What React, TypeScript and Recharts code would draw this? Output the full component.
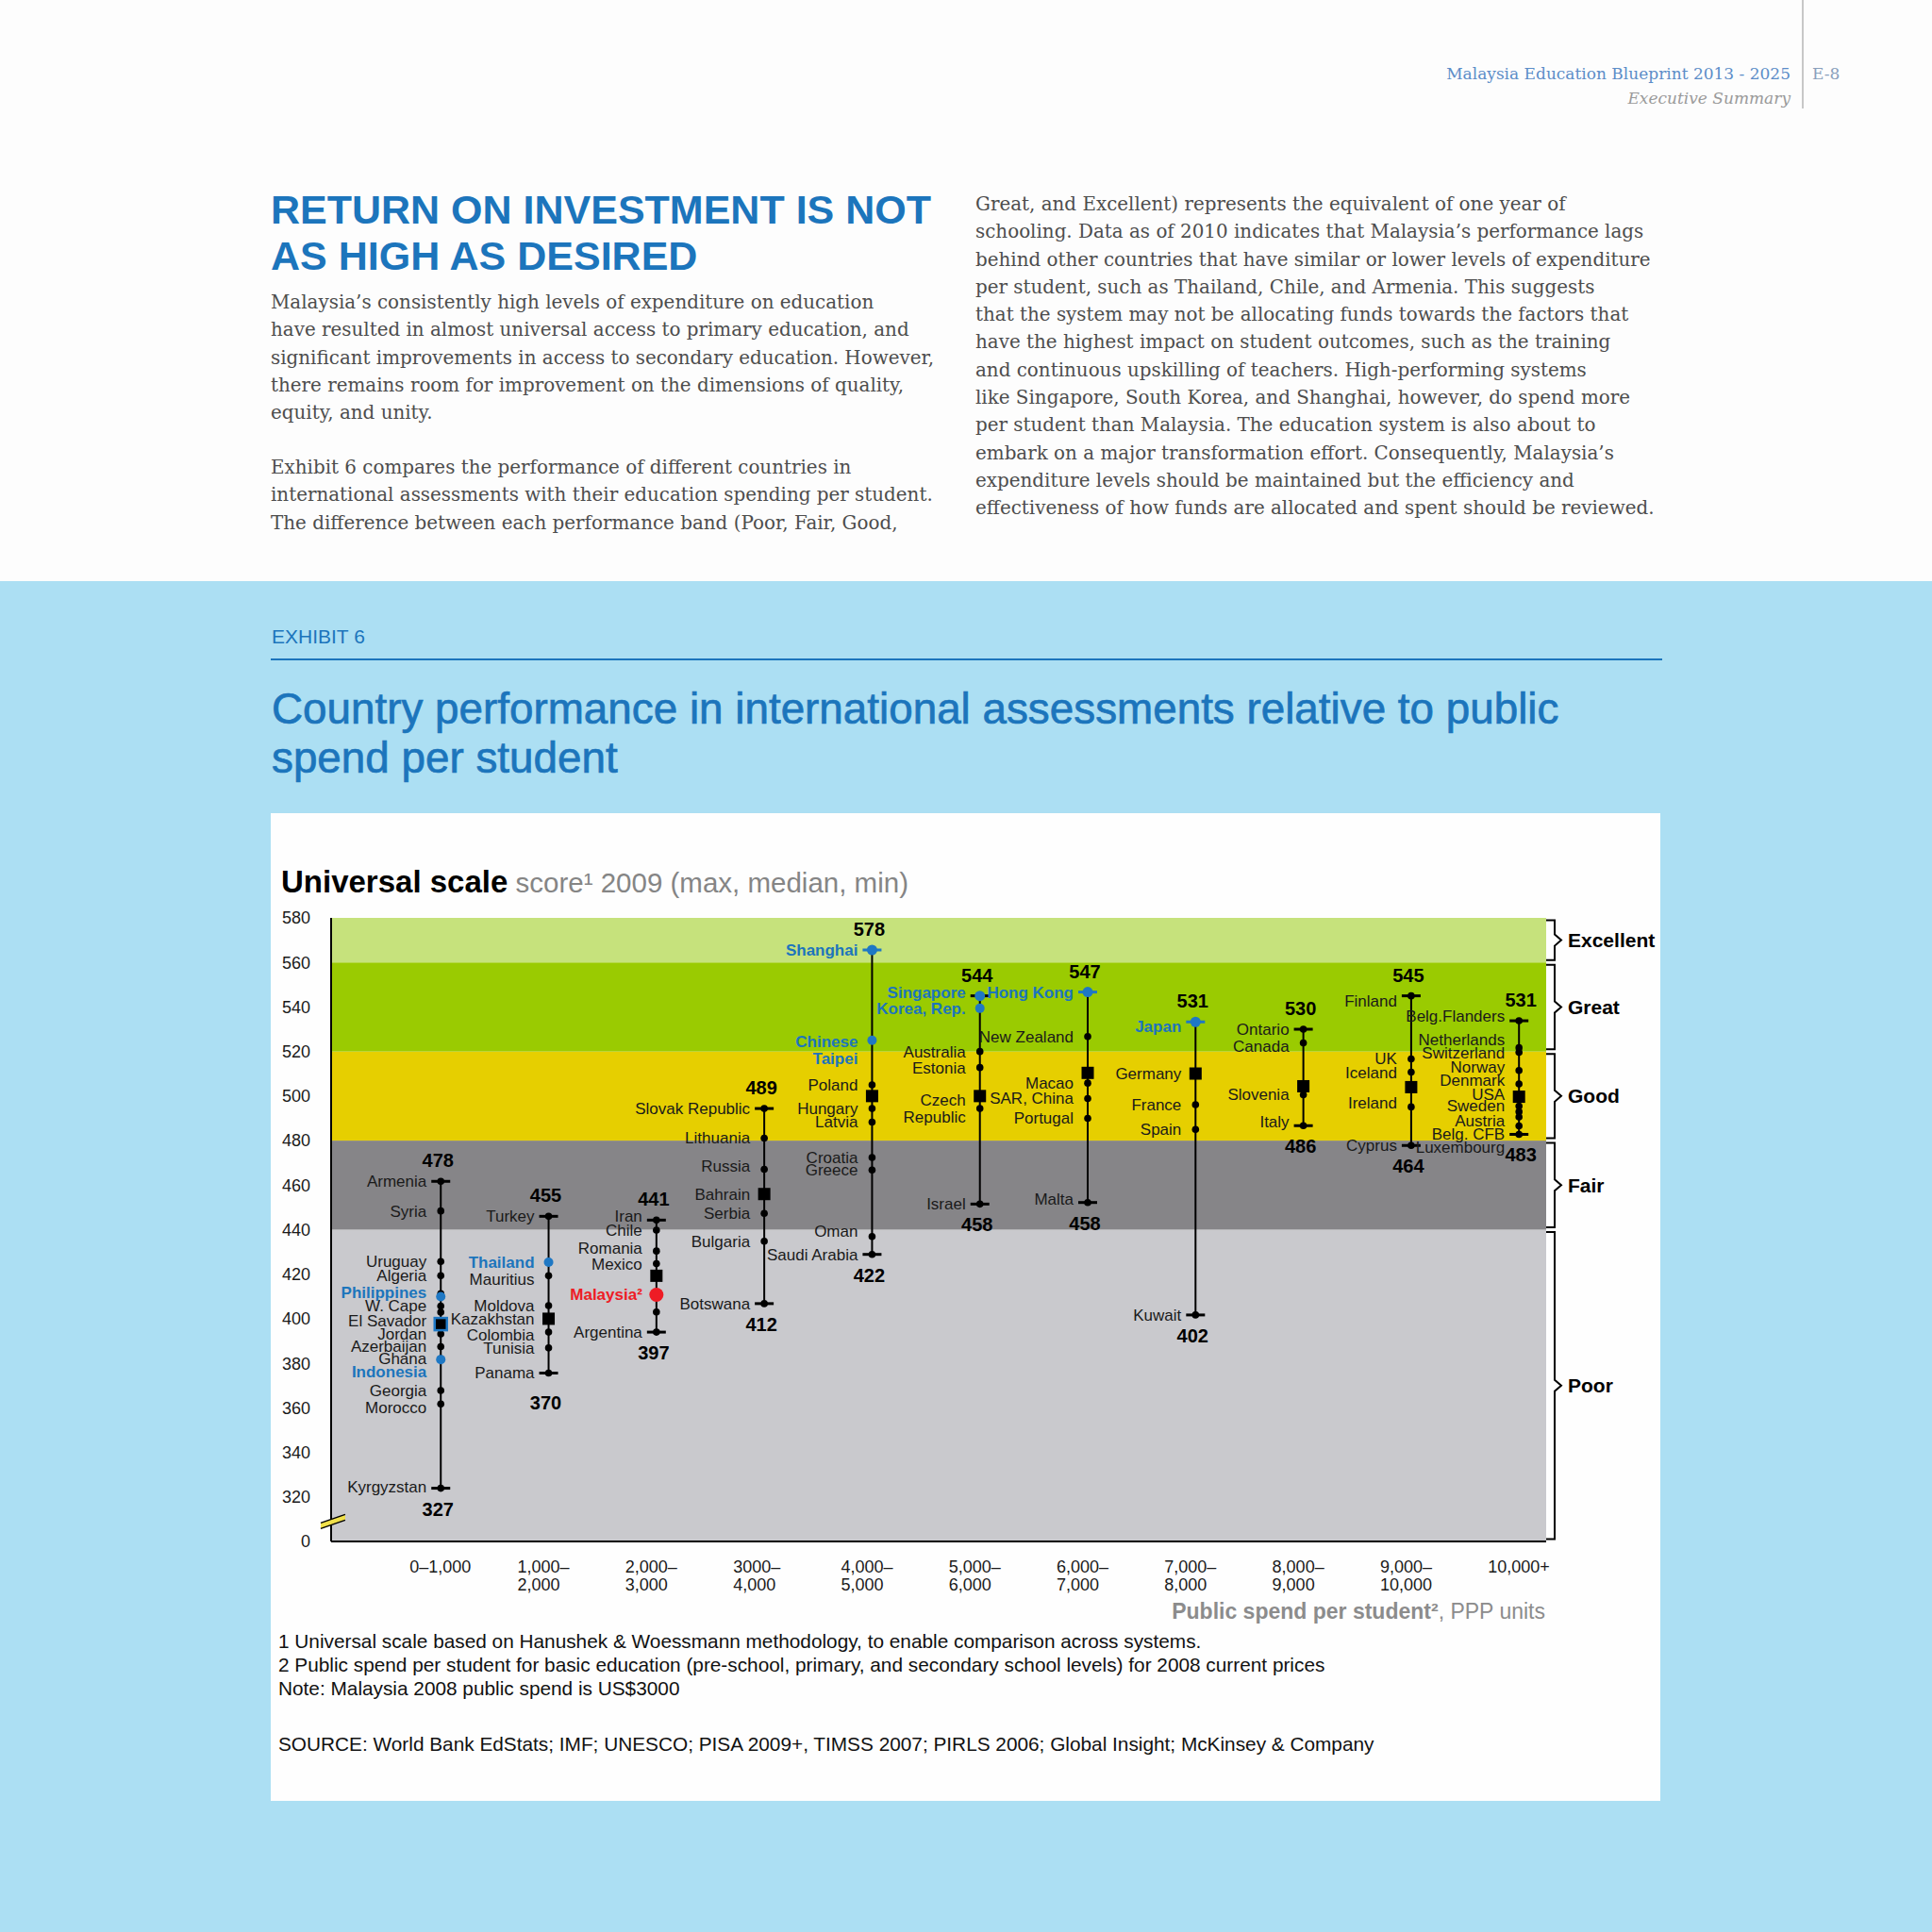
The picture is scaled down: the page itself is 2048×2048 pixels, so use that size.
import React from "react";
import { ScatterChart, Scatter, XAxis, YAxis, ReferenceArea, ReferenceLine, ReferenceDot } from "recharts";

// ---------- data ----------
const spendBands = ["0–1,000", "1,000–|2,000", "2,000–|3,000", "3000–|4,000", "4,000–|5,000", "5,000–|6,000", "6,000–|7,000", "7,000–|8,000", "8,000–|9,000", "9,000–|10,000", "10,000+"];

const maxNames = ["Armenia", "Turkey", "Iran", "Slovak Republic", "Shanghai", "Singapore", "Hong Kong", "Japan", "Ontario", "Finland", "Belg.Flanders"];
const maxScores = [461.7, 446, 444.3, 494.4, 565.6, 545, 546.7, 533.3, 530, 545, 533.8];
const maxLabels = ["478", "455", "441", "489", "578", "544", "547", "531", "530", "545", "531"];

const minNames = ["Kyrgyzstan", "Panama", "Argentina", "Botswana", "Saudi Arabia", "Israel", "Malta", "Kuwait", "Italy", "Cyprus", "Luxembourg"];
const minScores = [323.9, 375.6, 394, 406.8, 428.9, 451.5, 452.2, 401.7, 486.7, 477.8, 482.8];
const minLabels = ["327", "370", "397", "412", "422", "458", "458", "402", "486", "464", "483"];

const medianScores = [397.6, 400, 419.3, 456, 500, 500, 510.4, 510.1, 504.4, 504, 499.7];

const band0: [string, number][] = [["Syria", 448.4], ["Uruguay", 425.7], ["Algeria", 419.3], ["", 411.3], ["Philippines", 409.9], ["W. Cape", 405.7], ["", 402.9], ["El Savador", 397.6], ["Jordan", 393.2], ["Azerbaijan", 387.5], ["Ghana", 382], ["Indonesia", 381.7], ["Georgia", 367.8], ["Morocco", 361.7]];
const band1: [string, number][] = [["Thailand", 425.4], ["Mauritius", 419.3], ["Moldova", 405.9], ["Kazakhstan", 400], ["Colombia", 394], ["Tunisia", 386.9]];
const band2: [string, number][] = [["Chile", 439.8], ["Romania", 430.4], ["Mexico", 424.7], ["Malaysia²", 410.8], ["", 403]];
const band3: [string, number][] = [["Lithuania", 481.1], ["Russia", 467.1], ["Bahrain", 456], ["Serbia", 447.3], ["Bulgaria", 434.8]];
const band4: [string, number][] = [["Chinese\nTaipei", 525], ["Poland", 505], ["Hungary", 494.4], ["Latvia", 488.3], ["Croatia", 472.4], ["Greece", 466.8], ["Oman", 436.9]];
const band5: [string, number][] = [["Korea, Rep.", 539.4], ["Australia", 520], ["Estonia", 512.8], ["Czech\nRepublic", 494.4]];
const band6: [string, number][] = [["New Zealand", 526.7], ["Macao", 505.8], ["SAR, China", 498.9], ["Portugal", 490]];
const band7: [string, number][] = [["Germany", 510.1], ["France", 496.1], ["Spain", 485]];
const band8: [string, number][] = [["Canada", 523.9], ["Slovenia", 500.6]];
const band9: [string, number][] = [["UK", 516.7], ["Iceland", 510.7], ["Ireland", 495.1]];
const band10: [string, number][] = [["Netherlands", 521.7], ["Switzerland", 519.6], ["Norway", 511.5], ["Denmark", 505.4], ["USA", 499.7], ["Sweden", 495.5], ["", 493], ["Austria", 490.6], ["Belg. CFB", 486.6]];
const bandCountries = [band0, band1, band2, band3, band4, band5, band6, band7, band8, band9, band10];

const blueNames = ["Shanghai", "Chinese\nTaipei", "Singapore", "Korea, Rep.", "Hong Kong", "Japan", "Thailand", "Philippines", "Indonesia"];

const perfNames = ["Poor", "Fair", "Good", "Great", "Excellent"];
const perfEdges = [300, 440, 480, 520, 560, 580];
const perfColors = ["#c9c9cd", "#868588", "#e6cf00", "#9acb01", "#c6e27c"];

const yTicks = [300, 320, 340, 360, 380, 400, 420, 440, 460, 480, 500, 520, 540, 560, 580];
const xTicks = [0, 1, 2, 3, 4, 5, 6, 7, 8, 9, 10];

// ---------- layout / style ----------
const FONT = '"Liberation Sans", Arial, Helvetica, sans-serif';
const SERIF = '"DejaVu Serif", "Liberation Serif", serif';
const BLUE = "#1c75bc";
const DOT_BLUE = "#1f78c4";
const RED = "#ee1c25";

const labelNudge: Record<string, number> = {
  Philippines: -5, "El Savador": -4, Indonesia: 13, Morocco: 4, Kyrgyzstan: -2, Mauritius: 4, Colombia: 3,
  Iran: -4, Romania: -3, Russia: -3, "Chinese\nTaipei": 10, Oman: -6, Singapore: -4, Malta: -4, Japan: 5,
  Canada: 4, Italy: -4, Finland: 5, Ireland: -4, "Belg.Flanders": -5, Netherlands: -9, Norway: -4,
  Denmark: -4, USA: -3, Austria: 4, "Belg. CFB": 9, Luxembourg: 14,
};

type Pt = { x: number; y: number; name: string; kind: string; num?: string };

const points: Pt[] = [];
bandCountries.forEach((list, i) => {
  list.forEach(([name, score]) => points.push({ x: i, y: score, name, kind: "dot" }));
  points.push({ x: i, y: medianScores[i], name: "", kind: "median" });
  points.push({ x: i, y: maxScores[i], name: maxNames[i], kind: "max", num: maxLabels[i] });
  points.push({ x: i, y: minScores[i], name: minNames[i], kind: "min", num: minLabels[i] });
});
const rank = (p: Pt) =>
  p.kind === "dot" ? (blueNames.includes(p.name) || p.name.startsWith("Malaysia") ? 2 : 0) : p.kind === "median" ? 1 : 3;
points.sort((a, b) => rank(a) - rank(b));

function PointShape(props: any) {
  const { cx, cy, payload } = props;
  if (cx == null || cy == null || !payload) return <g />;
  const p: Pt = payload;
  const isBlue = blueNames.includes(p.name);
  const isRed = p.name.startsWith("Malaysia");
  let marker: React.ReactNode;
  if (p.kind === "median") {
    marker = (
      <rect x={cx - 6.5} y={cy - 6.5} width={13} height={13} fill="#000" stroke={p.x === 0 ? DOT_BLUE : "none"} strokeWidth={2.5} />
    );
  } else if (p.kind === "max" || p.kind === "min") {
    const dashBlue = isBlue && p.name !== "Singapore";
    marker = (
      <g>
        <line x1={cx - 10} x2={cx + 10} y1={cy} y2={cy} stroke={dashBlue ? DOT_BLUE : "#000"} strokeWidth={3} />
        <circle cx={cx} cy={cy} r={isBlue ? 5.5 : 3.8} fill={isBlue ? DOT_BLUE : "#000"} />
      </g>
    );
  } else {
    marker = <circle cx={cx} cy={cy} r={isRed ? 7.5 : isBlue ? 5 : 3.8} fill={isRed ? RED : isBlue ? DOT_BLUE : "#000"} />;
  }
  const lines = p.name ? p.name.split("\n") : [];
  const base = cy + (labelNudge[p.name] || 0);
  const labelFill = isRed ? RED : isBlue ? BLUE : "#1a1a1a";
  return (
    <g>
      {marker}
      {lines.map((l, k) => (
        <text
          key={k}
          x={cx - 15}
          y={base + (k - (lines.length - 1) / 2) * 18}
          dy="0.35em"
          textAnchor="end"
          fontSize={17}
          fontFamily={FONT}
          fontWeight={isBlue || isRed ? "bold" : "normal"}
          fill={labelFill}
        >
          {l}
        </text>
      ))}
      {p.num ? (
        <text
          x={cx + (p.x === 10 ? 2 : -3)}
          y={p.kind === "max" ? cy - 22 : cy + (p.name === "Panama" ? 31 : 22)}
          dy="0.35em"
          textAnchor="middle"
          fontSize={20}
          fontWeight="bold"
          fontFamily={FONT}
          fill="#000"
        >
          {p.num}
        </text>
      ) : null}
    </g>
  );
}

const bandShape = (label: string) => (props: any) => {
  const { x, y, width, height, fill } = props;
  const xr = x + width;
  const t = y + 2.5;
  const b = y + height - 2.5;
  const m = y + height / 2;
  return (
    <g>
      <rect x={x} y={y} width={width} height={height} fill={fill} />
      <path
        d={`M${xr} ${t} H${xr + 9} V${m - 6} L${xr + 16} ${m} L${xr + 9} ${m + 6} V${b} H${xr}`}
        fill="none"
        stroke="#000"
        strokeWidth={2}
      />
      <text x={xr + 23} y={m} dy="0.35em" fontSize={21} fontWeight="bold" fontFamily={FONT} fill="#000">
        {label}
      </text>
    </g>
  );
};

function XTick(props: any) {
  const { x, y, payload } = props;
  const lines = spendBands[payload.value].split("|");
  return (
    <g>
      {lines.map((l, k) => (
        <text key={k} x={x - 33} y={y + 27 + k * 19} dy="0.35em" textAnchor="start" fontSize={18} fontFamily={FONT} fill="#1a1a1a">
          {l}
        </text>
      ))}
    </g>
  );
}

const BreakMark = (props: any) => {
  const { cx, cy } = props;
  return (
    <g>
      <polygon points={`${cx - 13},${cy + 4} ${cx + 13},${cy - 5} ${cx + 13},${cy + 1} ${cx - 13},${cy + 10}`} fill="#f0e04a" />
      <line x1={cx - 13} y1={cy + 4} x2={cx + 13} y2={cy - 5} stroke="#000" strokeWidth={1.5} />
      <line x1={cx - 13} y1={cy + 10} x2={cx + 13} y2={cy + 1} stroke="#000" strokeWidth={1.5} />
    </g>
  );
};

const abs = (o: React.CSSProperties): React.CSSProperties => ({ position: "absolute", whiteSpace: "nowrap", ...o });

const leftPara1 = [
  "Malaysia’s consistently high levels of expenditure on education",
  "have resulted in almost universal access to primary education, and",
  "significant improvements in access to secondary education. However,",
  "there remains room for improvement on the dimensions of quality,",
  "equity, and unity.",
];
const leftPara2 = [
  "Exhibit 6 compares the performance of different countries in",
  "international assessments with their education spending per student.",
  "The difference between each performance band (Poor, Fair, Good,",
];
const rightPara = [
  "Great, and Excellent) represents the equivalent of one year of",
  "schooling. Data as of 2010 indicates that Malaysia’s performance lags",
  "behind other countries that have similar or lower levels of expenditure",
  "per student, such as Thailand, Chile, and Armenia. This suggests",
  "that the system may not be allocating funds towards the factors that",
  "have the highest impact on student outcomes, such as the training",
  "and continuous upskilling of teachers. High-performing systems",
  "like Singapore, South Korea, and Shanghai, however, do spend more",
  "per student than Malaysia. The education system is also about to",
  "embark on a major transformation effort. Consequently, Malaysia’s",
  "expenditure levels should be maintained but the efficiency and",
  "effectiveness of how funds are allocated and spent should be reviewed.",
];

const paraStyle: React.CSSProperties = { fontFamily: SERIF, fontSize: 19.9, lineHeight: "29.3px", color: "#4d4d4d" };

export default function App() {
  return (
    <div style={{ position: "relative", width: 2048, height: 2048, background: "#fdfdfd", overflow: "hidden", fontFamily: FONT }}>
      <style>{"body{margin:0}"}</style>

      {/* header */}
      <div style={abs({ right: 150, top: 65, fontFamily: SERIF, fontSize: 17, lineHeight: "26px", color: "#5c8dc8" })}>
        Malaysia Education Blueprint 2013 - 2025
      </div>
      <div style={abs({ right: 150, top: 91, fontFamily: SERIF, fontSize: 17, lineHeight: "26px", color: "#9a9a9a", fontStyle: "italic" })}>
        Executive Summary
      </div>
      <div style={abs({ left: 1910, top: 0, width: 1.5, height: 115, background: "#c8c8c8" })} />
      <div style={abs({ left: 1921, top: 65, fontFamily: SERIF, fontSize: 17, lineHeight: "26px", color: "#8aa0bc" })}>E-8</div>

      {/* heading */}
      <div style={abs({ left: 287, top: 198, fontSize: 43, lineHeight: "49px", fontWeight: "bold", color: BLUE })}>
        RETURN ON INVESTMENT IS NOT
        <br />
        AS HIGH AS DESIRED
      </div>

      <div style={abs({ left: 287, top: 306, ...paraStyle })}>
        {leftPara1.map((l, i) => (
          <div key={i}>{l}</div>
        ))}
      </div>
      <div style={abs({ left: 287, top: 481, ...paraStyle })}>
        {leftPara2.map((l, i) => (
          <div key={i}>{l}</div>
        ))}
      </div>
      <div style={abs({ left: 1034, top: 202, ...paraStyle })}>
        {rightPara.map((l, i) => (
          <div key={i}>{l}</div>
        ))}
      </div>

      {/* blue section */}
      <div style={abs({ left: 0, top: 616, width: 2048, height: 1432, background: "#acdff3" })} />
      <div style={abs({ left: 288, top: 662, fontSize: 21, lineHeight: "26px", color: BLUE })}>EXHIBIT 6</div>
      <div style={abs({ left: 287, top: 698, width: 1475, height: 2, background: BLUE })} />
      <div style={abs({ left: 288, top: 726, fontSize: 45.8, lineHeight: "52px", color: BLUE, WebkitTextStroke: "0.7px " + BLUE })}>
        Country performance in international assessments relative to public
        <br />
        spend per student
      </div>

      {/* white card */}
      <div style={abs({ left: 287, top: 862, width: 1473, height: 1047, background: "#fefefe" })} />
      <div style={abs({ left: 298, top: 915, lineHeight: "40px" })}>
        <span style={{ fontSize: 33, fontWeight: "bold", color: "#000" }}>Universal scale</span>
        <span style={{ fontSize: 29.5, color: "#858585" }}> score¹ 2009 (max, median, min)</span>
      </div>

      <div style={abs({ left: 287, top: 950 })}>
        <ScatterChart width={1473} height={760} margin={{ top: 23, right: 121, bottom: 0, left: 4 }}>
          <XAxis
            type="number"
            dataKey="x"
            domain={[-1.017, 10.252]}
            ticks={xTicks}
            allowDataOverflow
            interval={0}
            tick={<XTick />}
            tickLine={false}
            tickSize={0}
            tickMargin={0}
            height={76}
            axisLine={{ stroke: "#000", strokeWidth: 2 }}
          />
          <YAxis
            type="number"
            dataKey="y"
            domain={[300, 580]}
            ticks={yTicks}
            allowDataOverflow
            interval={0}
            width={60}
            tickLine={false}
            tickSize={0}
            tickMargin={22}
            tickFormatter={(v: number) => (v === 300 ? "0" : String(v))}
            tick={{ fontSize: 18, fill: "#1a1a1a", fontFamily: FONT }}
            axisLine={{ stroke: "#000", strokeWidth: 2 }}
          />
          {perfNames.map((n, i) => (
            <ReferenceArea
              key={n}
              y1={perfEdges[i]}
              y2={perfEdges[i + 1]}
              fill={perfColors[i]}
              fillOpacity={1}
              ifOverflow="visible"
              shape={bandShape(n)}
            />
          ))}
          {xTicks.map((i) => (
            <ReferenceLine
              key={"l" + i}
              segment={[
                { x: i, y: minScores[i] },
                { x: i, y: maxScores[i] },
              ]}
              stroke="#000"
              strokeWidth={2}
            />
          ))}
          <ReferenceDot x={-1} y={310} r={1} ifOverflow="visible" shape={BreakMark} />
          <Scatter data={points} isAnimationActive={false} shape={PointShape} />
        </ScatterChart>
      </div>

      <div style={abs({ right: 410, top: 1694, fontSize: 23, lineHeight: "28px", color: "#8c8c8c" })}>
        <b>Public spend per student²</b>, PPP units
      </div>

      <div style={abs({ left: 295, top: 1727, fontSize: 20.8, lineHeight: "25px", color: "#111" })}>
        <div>1 Universal scale based on Hanushek &amp; Woessmann methodology, to enable comparison across systems.</div>
        <div>2 Public spend per student for basic education (pre-school, primary, and secondary school levels) for 2008 current prices</div>
        <div>Note: Malaysia 2008 public spend is US$3000</div>
      </div>
      <div style={abs({ left: 295, top: 1836, fontSize: 20.8, lineHeight: "25px", color: "#111" })}>
        SOURCE: World Bank EdStats; IMF; UNESCO; PISA 2009+, TIMSS 2007; PIRLS 2006; Global Insight; McKinsey &amp; Company
      </div>
    </div>
  );
}
